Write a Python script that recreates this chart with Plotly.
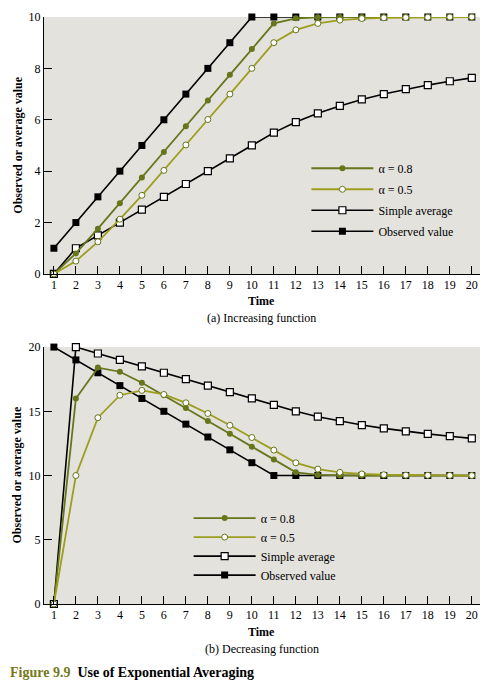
import plotly.graph_objects as go

# Time axis
time = list(range(1, 21))

# (a) Increasing function
inc_observed = [1, 2, 3, 4, 5, 6, 7, 8, 9, 10, 10, 10, 10, 10, 10, 10, 10, 10, 10, 10]
inc_simple = [0, 1, 1.5, 2, 2.5, 3, 3.5, 4, 4.5, 5, 5.5, 5.91, 6.25, 6.54, 6.79, 7.0, 7.19, 7.35, 7.5, 7.63]
inc_a08 = [0, 0.8, 1.76, 2.75, 3.75, 4.75, 5.75, 6.75, 7.75, 8.75, 9.75, 9.95, 9.99, 10, 10, 10, 10, 10, 10, 10]
inc_a05 = [0, 0.5, 1.25, 2.13, 3.06, 4.03, 5.02, 6.01, 7.0, 8.0, 9.0, 9.5, 9.75, 9.88, 9.94, 9.97, 9.98, 9.99, 10, 10]

# (b) Decreasing function
dec_observed = [20, 19, 18, 17, 16, 15, 14, 13, 12, 11, 10, 10, 10, 10, 10, 10, 10, 10, 10, 10]
dec_simple = [0, 20, 19.5, 19, 18.5, 18, 17.5, 17, 16.5, 16, 15.5, 15.0, 14.58, 14.23, 13.93, 13.67, 13.44, 13.24, 13.06, 12.89]
dec_a08 = [0, 16, 18.4, 18.08, 17.22, 16.24, 15.25, 14.25, 13.25, 12.25, 11.25, 10.25, 10.05, 10.01, 10, 10, 10, 10, 10, 10]
dec_a05 = [0, 10, 14.5, 16.25, 16.63, 16.31, 15.66, 14.83, 13.91, 12.96, 11.98, 10.99, 10.5, 10.25, 10.12, 10.06, 10.03, 10.02, 10.01, 10]

FONT = "'Liberation Serif', 'Times New Roman', Times, serif"
OLIVE_DARK = "#66761a"
OLIVE_LIGHT = "#9c9e1f"

fig = go.Figure()


def add_panel(xa, ya, leg, tag, observed, simple, a08, a05):
    # drawn: observed, simple, 0.8, 0.5 ; legend order set by rank
    fig.add_trace(go.Scatter(
        x=time, y=observed, name="Observed value", mode="lines+markers",
        xaxis=xa, yaxis=ya, legend=leg, legendgroup=tag + "obs", legendrank=4,
        cliponaxis=False,
        line=dict(color="black", width=1.6),
        marker=dict(symbol="square", size=7, color="black")))
    fig.add_trace(go.Scatter(
        x=time, y=simple, name="Simple average", mode="lines+markers",
        xaxis=xa, yaxis=ya, legend=leg, legendgroup=tag + "sim", legendrank=3,
        cliponaxis=False,
        line=dict(color="black", width=1.6),
        marker=dict(symbol="square", size=7, color="white",
                    line=dict(color="black", width=1.2))))
    fig.add_trace(go.Scatter(
        x=time, y=a08, name="α = 0.8", mode="lines+markers",
        xaxis=xa, yaxis=ya, legend=leg, legendgroup=tag + "a08", legendrank=1,
        cliponaxis=False,
        line=dict(color=OLIVE_DARK, width=1.8),
        marker=dict(symbol="circle", size=6, color=OLIVE_DARK)))
    fig.add_trace(go.Scatter(
        x=time, y=a05, name="α = 0.5", mode="lines+markers",
        xaxis=xa, yaxis=ya, legend=leg, legendgroup=tag + "a05", legendrank=2,
        cliponaxis=False,
        line=dict(color=OLIVE_LIGHT, width=1.8),
        marker=dict(symbol="circle", size=6, color="white",
                    line=dict(color=OLIVE_DARK, width=1))))


add_panel("x", "y", "legend", "a", inc_observed, inc_simple, inc_a08, inc_a05)
add_panel("x2", "y2", "legend2", "b", dec_observed, dec_simple, dec_a08, dec_a05)

xaxis_common = dict(range=[0.55, 20.6], tickvals=time, ticks="inside", ticklen=8,
                    tickcolor="black", showline=True, linecolor="black",
                    showgrid=False, zeroline=False,
                    tickfont=dict(family=FONT, size=12, color="black"))
yaxis_common = dict(ticks="inside", ticklen=8, tickcolor="black", showline=True,
                    linecolor="black", showgrid=False, zeroline=False,
                    tickfont=dict(family=FONT, size=12, color="black"))

legend_common = dict(xanchor="left", yanchor="top", bgcolor="rgba(0,0,0,0)",
                     font=dict(family=FONT, size=12, color="black"),
                     itemwidth=62, traceorder="grouped")

# page body has an 8px margin, so the figure is sized to sit inside the window
fig.update_layout(
    width=480, height=680,
    margin=dict(l=36, r=3, t=2, b=84),
    paper_bgcolor="white",
    plot_bgcolor="#e4e2dd",
    showlegend=True,
    xaxis=dict(domain=[0, 1], anchor="y", **xaxis_common),
    yaxis=dict(domain=[0.5623, 1], anchor="x", range=[0, 10],
               tickvals=[0, 2, 4, 6, 8, 10], **yaxis_common),
    xaxis2=dict(domain=[0, 1], anchor="y2", **xaxis_common),
    yaxis2=dict(domain=[0, 0.4377], anchor="x2", range=[0, 20],
                tickvals=[0, 5, 10, 15, 20], **yaxis_common),
    legend=dict(x=0.595, y=0.767, tracegroupgap=2, **legend_common),
    legend2=dict(x=0.328, y=0.171, tracegroupgap=0, **legend_common),
)

ann_font = dict(family=FONT, size=12, color="black")
annotations = [
    dict(text="<b>Time</b>", x=0.494, y=0.517),
    dict(text="(a) Increasing function", x=0.494, y=0.488),
    dict(text="<b>Time</b>", x=0.494, y=-0.047),
    dict(text="(b) Decreasing function", x=0.494, y=-0.0774),
    dict(text="<b>Observed or average value</b>", x=-0.061, y=0.781, textangle=-90),
    dict(text="<b>Observed or average value</b>", x=-0.061, y=0.219, textangle=-90),
]
for a in annotations:
    fig.add_annotation(xref="paper", yref="paper", showarrow=False,
                       xanchor="center", yanchor="middle", font=ann_font, **a)

fig.add_annotation(
    xref="paper", yref="paper", x=-0.082, y=-0.116, xanchor="left", yanchor="middle",
    showarrow=False, font=dict(family=FONT, size=14, color="black"),
    text="<b><span style='color:#75791a'>Figure 9.9</span>\u00a0\u00a0Use of Exponential Averaging</b>")

fig.write_html("out.html")
